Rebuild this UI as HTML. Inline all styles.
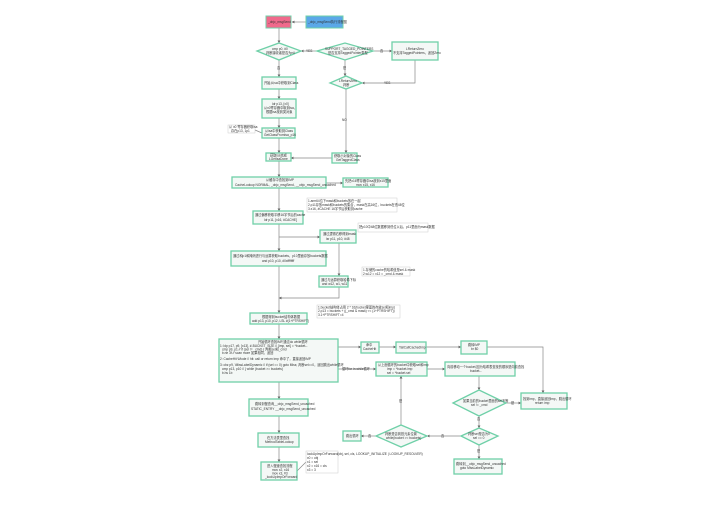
<!DOCTYPE html>
<html><head><meta charset="utf-8"><style>
html,body{margin:0;padding:0;background:#fff;width:720px;height:509px;overflow:hidden}
svg text{font-family:"Liberation Sans","Noto Sans CJK SC",sans-serif;font-size:3.2px;fill:#333}
.b{fill:#f4f8f6;stroke:#6fd0a8;stroke-width:1.3}
.l{stroke:#888;stroke-width:0.7;fill:none}
.n{fill:#fff;stroke:#ccc;stroke-width:0.5}
.lb{font-size:3px;fill:#555}
</style></head><body>
<svg width="720" height="509" viewBox="0 0 720 509" xmlns="http://www.w3.org/2000/svg">
<defs><marker id="a" markerWidth="4" markerHeight="4" refX="3.5" refY="2" orient="auto"><path d="M0,0 L4,2 L0,4z" fill="#666"/></marker></defs>

<!-- connectors -->
<g class="l" marker-end="url(#a)">
<path d="M306,22 H292"/>
<path d="M279,28 V43"/>
<path d="M317,51 H301"/>
<path d="M373,51 H392"/>
<path d="M279,60 V77"/>
<path d="M345,60 V76"/>
<path d="M415,60 V83 H362"/>
<path d="M346,89 V153"/>
<path d="M279,89 V99"/>
<path d="M279,118 V128"/>
<path d="M279,138 V153"/>
<path d="M332,158 H291"/>
<path d="M279,161 V177"/>
<path d="M326,183 H343"/>
<path d="M279,188 V211"/>
<path d="M279,224 V251"/>
<path d="M279,237 H320"/>
<path d="M339,243 V276"/>
<path d="M339,287 V298 H279"/>
<path d="M279,266 V313"/>
<path d="M279,324 V339"/>
<path d="M338,347 H361"/>
<path d="M379,347 H396"/>
<path d="M426,347 H461"/>
<path d="M487,347 H543 V393"/>
<path d="M338,369 H376"/>
<path d="M427,369 H445"/>
<path d="M479,376 V390"/>
<path d="M506,403 H521"/>
<path d="M479,416 V428"/>
<path d="M461,436 H427"/>
<path d="M401,425 V376"/>
<path d="M376,436 H361"/>
<path d="M479,445 V459"/>
<path d="M279,382 V399"/>
<path d="M279,416 V433"/>
<path d="M279,447 V462"/>
</g>
<path class="l" d="M255,130 L262,133"/>
<path class="l" d="M297,471 L306,462"/>

<!-- edge labels -->
<g class="lb">
<text x="306" y="52">YES</text><text x="380" y="52">否</text>
<text x="277" y="69">否</text><text x="343" y="69">是</text>
<text x="384" y="84">YES</text><text x="342" y="121">NO</text>
<text x="342" y="370">循环for in while循环</text>
<text x="399" y="402">是</text><text x="368" y="437">否</text>
<text x="441" y="437">否</text><text x="511" y="404">是</text>
<text x="477" y="420">否</text><text x="477" y="452">是</text>
</g>

<!-- boxes -->
<rect x="266" y="16" width="25" height="12" fill="#f06a8c" stroke="#6fd0a8" stroke-width="1"/>
<text x="268" y="23">_objc_msgSend</text>
<rect x="306" y="16" width="37" height="12" fill="#5ba8e8" stroke="#6fd0a8" stroke-width="1"/>
<text x="308" y="23">_objc_msgSend执行流程图</text>

<polygon class="b" points="257,51 279,43 301,51 279,60"/>
<text x="272" y="50">cmp p0, #0</text><text x="266" y="54">判断接收者是否为nil</text>
<polygon class="b" points="317,51 345,43 373,51 345,60"/>
<text x="325" y="50">SUPPORT_TAGGED_POINTERS</text><text x="328" y="54">是否支持TaggedPointer类型</text>
<rect class="b" x="392" y="42" width="46" height="18"/>
<text x="406" y="50">LReturnZero</text><text x="393" y="54">不支持TaggedPointers，返回Zero</text>
<polygon class="b" points="330,83 346,76 362,83 346,89"/>
<text x="339" y="82">LReturnZero</text><text x="343" y="86">判断</text>

<rect class="b" x="262" y="77" width="34" height="12"/><text x="264" y="84">开始从isa中获取到Class</text>
<rect class="b" x="262" y="99" width="34" height="19"/>
<text x="272" y="105">ldr p13, [x0]</text><text x="264" y="109">从x0寄存器中取到isa，</text><text x="266" y="113">根据isa找到类对象</text>
<rect class="b" x="262" y="128" width="33" height="10"/><text x="265" y="132">从isa中获取到Class</text><text x="264" y="136">GetClassFromIsa_p16</text>
<rect class="n" x="228" y="125" width="27" height="8"/><text x="229" y="128">从 x0 寄存器获取isa</text><text x="231" y="132">存在p13, 1p1</text>
<rect class="b" x="266" y="153" width="25" height="8"/><text x="270" y="156.5">获取isa完成</text><text x="269" y="160">LGetIsaDone</text>
<rect class="b" x="332" y="153" width="25" height="10"/><text x="334" y="157">获取小对象的Class</text><text x="336" y="161">GetTaggedClass</text>

<rect class="b" x="232" y="177" width="94" height="11"/>
<text x="266" y="181">从缓存中查找到IMP</text><text x="235" y="186">CacheLookup NORMAL, _objc_msgSend, __objc_msgSend_uncached</text>
<rect class="b" x="343" y="178" width="45" height="9"/><text x="345" y="182">先把x16寄存器中isa放到x15里面</text><text x="356" y="186">mov x15, x16</text>

<rect class="b" x="253" y="211" width="50" height="13"/>
<text x="255" y="216">通过偏移获取平移16字节后的cache</text><text x="264" y="221">ldr p11, [x16, #CACHE]</text>
<rect class="n" x="307" y="198" width="90" height="14"/>
<text x="308" y="202">1.arm64位下mask和buckets放在一起</text><text x="308" y="206">2.p11存放mask和buckets的集合，mask在高16位，buckets在低48位</text><text x="308" y="210">3.x16, #CACHE 16字节后获取到cache</text>

<rect class="b" x="320" y="230" width="36" height="13"/><text x="323" y="235">通过逻辑右移得到mask</text><text x="326" y="240">lsr p11, p10, #48</text>
<rect class="n" x="358" y="223" width="70" height="9"/><text x="359" y="228">把p10中48位数据移到低位以后，p11里面为mask数据</text>

<rect class="b" x="231" y="251" width="95" height="15"/>
<text x="233" y="257">通过和p1和掩码进行与运算获取buckets，p10里面存放buckets数据</text><text x="262" y="262">and p10, p10, #0xffffffff</text>
<rect class="b" x="319" y="276" width="29" height="11"/><text x="321" y="281">通过与运算获取哈希下标</text><text x="322" y="285">and w12, w1, w11</text>
<rect class="n" x="362" y="267" width="48" height="9"/><text x="363" y="271">1.存储的cache的哈希值是sel &amp; mask</text><text x="363" y="275">2.w12 = x12 = _cmd &amp; mask</text>

<rect class="b" x="250" y="313" width="57" height="11"/>
<text x="262" y="318">根据得到bucket结构体数据</text><text x="252" y="322">add p13, p10, p12, LSL #(1+PTRSHIFT)</text>
<rect class="n" x="317" y="305" width="83" height="13"/>
<text x="318" y="308.5">1.bucket结构体占用 2 * 16(bucket里面的存放sel和imp)</text><text x="318" y="312">2.p13 = buckets + ((_cmd &amp; mask) &lt;&lt; (1+PTRSHIFT))</text><text x="318" y="316">3.1+PTRSHIFT=4</text>

<rect class="b" x="219" y="339" width="119" height="43"/>
<text x="258" y="343">开始循环查找IMP,通过do while循环</text>
<text x="220" y="347">1: ldp p17, p9, [x13], #-BUCKET_SIZE // {imp, sel} = *bucket--</text>
<text x="222" y="350.5">cmp p9, p1 // if (sel != _cmd) { 判断sel和_cmd</text>
<text x="222" y="354">b.ne 3f // scan more 如果相同，返回</text>
<text x="220" y="360">2: CacheHit \Mode // hit: call or return imp 命中了，直接返回IMP</text>
<text x="220" y="366">3: cbz p9, \MissLabelDynamic // if (sel == 0) goto Miss; 判断sel==0，返回跳出while循环</text>
<text x="222" y="370">cmp p13, p10 // } while (bucket &gt;= buckets)</text>
<text x="222" y="374">b.hs 1b</text>

<rect class="b" x="361" y="342" width="18" height="11"/><text x="366" y="346">命中</text><text x="363" y="350">CacheHit</text>
<rect class="b" x="396" y="342" width="30" height="11"/><text x="399" y="348.5">TailCallCachedImp</text>
<rect class="b" x="461" y="341" width="26" height="13"/><text x="468" y="346">跳转IMP</text><text x="471" y="350">br $0</text>

<rect class="b" x="376" y="362" width="51" height="14"/>
<text x="378" y="366">从上面循环的bucket中获取sel和imp</text><text x="387" y="370">imp = *bucket.imp</text><text x="387" y="374">sel = *bucket.sel</text>
<rect class="b" x="445" y="362" width="70" height="14"/>
<text x="447" y="368">向前移动一个bucket,因为哈希表查找的顺序是向前查找</text><text x="470" y="372">bucket--</text>

<polygon class="b" points="453,403 479,390 506,403 479,416"/>
<text x="463" y="402">如果当前的bucket里面的sel不等</text><text x="471" y="406">sel != _cmd</text>
<rect class="b" x="521" y="393" width="46" height="16"/>
<text x="523" y="400">找到imp，直接返回imp，跳出循环</text><text x="535" y="404">return imp</text>

<polygon class="b" points="376,436 401,425 427,436 401,447"/>
<text x="385" y="435">判断是否到首元素位置</text><text x="386" y="439">while(bucket &gt;= buckets)</text>
<rect class="b" x="343" y="431" width="18" height="10"/><text x="346" y="437">跳出循环</text>
<polygon class="b" points="461,436 479,428 498,436 479,445"/>
<text x="468" y="435">判断sel是否为0</text><text x="473" y="439">sel == 0</text>
<rect class="b" x="454" y="459" width="48" height="15"/>
<text x="456" y="465">跳转到__objc_msgSend_uncached</text><text x="460" y="469">goto MissLabelDynamic</text>

<rect class="b" x="249" y="399" width="59" height="17"/>
<text x="255" y="405">跳转到慢查询__objc_msgSend_uncached</text><text x="251" y="410">STATIC_ENTRY __objc_msgSend_uncached</text>
<rect class="b" x="258" y="433" width="41" height="14"/><text x="267" y="439">在方法表里查找</text><text x="265" y="443">MethodTableLookup</text>
<rect class="b" x="261" y="462" width="36" height="18"/>
<text x="267" y="467">进入慢速查找流程</text><text x="272" y="471">mov x2, x16</text><text x="272" y="474.5">mov x3, #3</text><text x="265" y="478">_lookUpImpOrForward</text>
<rect class="n" x="306" y="451" width="32" height="22"/>
<text x="307" y="455">lookUpImpOrForward(obj, sel, cls, LOOKUP_INITIALIZE | LOOKUP_RESOLVER)</text>
<text x="307" y="459">x0 = obj</text><text x="307" y="463">x1 = sel</text><text x="307" y="467">x2 = x16 = cls</text><text x="307" y="471">x3 = 3</text>
</svg>
</body></html>
